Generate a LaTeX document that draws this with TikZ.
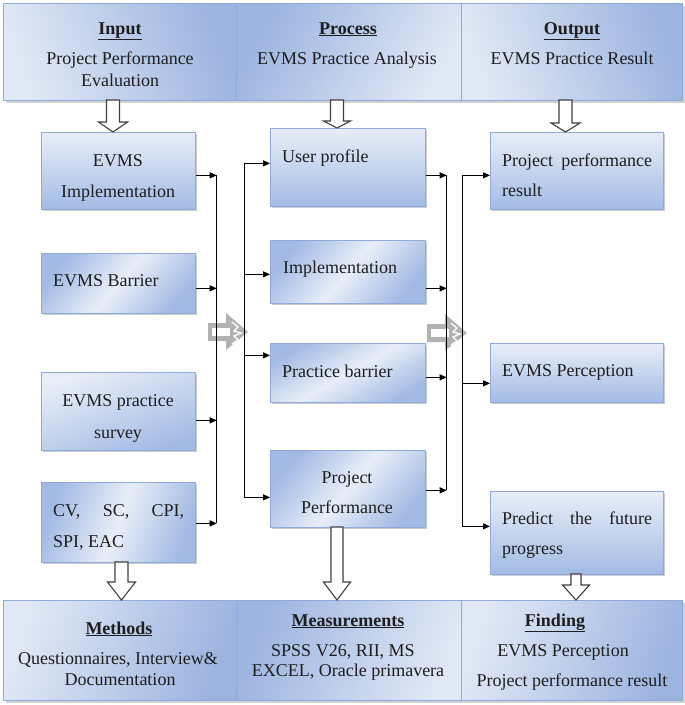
\documentclass[tikz,border=0pt]{standalone}
\usepackage{fontspec}
\setmainfont{Liberation Serif}
\usetikzlibrary{arrows.meta,shadows,calc}
\definecolor{boxedge}{HTML}{8FAADC}
\definecolor{lightb}{HTML}{E8EEF8}
\definecolor{darkb}{HTML}{A3BBE4}
\definecolor{bandd}{HTML}{9CB4E0}
\definecolor{bandl}{HTML}{E0E8F5}
\definecolor{txt}{HTML}{1E1E1E}
\newcommand{\barrowdn}[6]{%
  \draw[blockar] (#1-#2,#4) -- (#1-#2,#5) -- (#1-#3,#5) -- (#1,#6) -- (#1+#3,#5) -- (#1+#2,#5) -- (#1+#2,#4) -- cycle;}
\newcommand{\greyarrow}[2]{%
  \fill[gray!60] (#1,#2-9) -- (#1+18,#2-9) -- (#1+18,#2-19) -- (#1+40,#2) -- (#1+18,#2+18) -- (#1+18,#2+9) -- (#1,#2+9) -- cycle;
  \fill[white] (#1+4,#2-4) rectangle (#1+22,#2+4);
  \draw[white, line width=1.3pt] (#1+24,#2-10) -- (#1+30,#2-5) -- (#1+26,#2-1) -- (#1+33,#2+1) -- (#1+26,#2+4) -- (#1+30,#2+8) -- (#1+24,#2+12);}
\begin{document}
\begin{tikzpicture}[x=1pt,y=-1pt,
  every node/.style={font=\fontsize{18}{22}\selectfont, inner sep=0pt, text=txt},
  shad/.style={drop shadow={shadow xshift=2pt,shadow yshift=-2pt,fill=black!50,opacity=.4}},
  boxv/.style={draw=boxedge, line width=0.7pt, top color=lightb, bottom color=darkb, shad, anchor=north west},
  boxd/.style={draw=boxedge, line width=0.7pt, left color=darkb, right color=darkb, middle color=lightb, shading angle=50, shad, anchor=north west},
  bandcell/.style={draw=boxedge, line width=0.7pt, left color=bandl, right color=bandd, shading angle=110, anchor=north west, minimum height=97pt},
  bandcellb/.style={draw=boxedge, line width=0.7pt, left color=bandl, right color=bandd, shading angle=70, anchor=north west, minimum height=100pt},
  col1/.style={minimum width=154pt},
  col2/.style={minimum width=155pt},
  col3/.style={minimum width=173pt},
  conn/.style={line width=1pt, -{Triangle[length=7pt,width=6pt]}},
  bus/.style={line width=1pt},
  blockar/.style={draw=black!75, line width=1.1pt, fill=white, line join=miter},
  tb/.style={anchor=base},
  tl/.style={anchor=base west}]
\useasboundingbox (0,0) rectangle (685,705);

% bands
\fill[black!35, opacity=.5] (6,6) rectangle (685,103);
\node[bandcell, minimum width=233pt] (inp) at (3,3) {};
\node[bandcell, minimum width=225pt, shading angle=240] (proc) at (236,3) {};
\node[bandcell, minimum width=221pt] (outp) at (461,3) {};
\fill[black!35, opacity=.5] (6,603) rectangle (685,703);
\node[bandcellb, minimum width=233pt] (meth) at (3,600) {};
\node[bandcellb, minimum width=225pt, shading angle=250] (meas) at (236,600) {};
\node[bandcellb, minimum width=221pt] (find) at (461,600) {};

% boxes
\node[boxv, col1, minimum height=77pt] (impl) at (41,132) {};
\node[boxd, col1, minimum height=60pt] (barr) at (41,253) {};
\node[boxv, col1, minimum height=78pt, shading angle=20] (surv) at (41,372) {};
\node[boxd, col1, minimum height=80pt, shading angle=70] (cv) at (41,482) {};
\node[boxv, col2, minimum height=78pt] (user) at (270,128) {};
\node[boxd, col2, minimum height=63pt] (implm) at (270,240) {};
\node[boxd, col2, minimum height=59pt, shading angle=30] (prac) at (270,343) {};
\node[boxd, col2, minimum height=77pt] (perf) at (270,450) {};
\node[boxv, col3, minimum height=77pt] (ppr) at (490,132) {};
\node[boxv, col3, minimum height=59pt] (perc) at (490,343) {};
\node[boxv, col3, minimum height=83pt] (pred) at (490,491) {};

% grey transfer arrows
\greyarrow{208}{332}
\greyarrow{427}{333}

% block arrows
\barrowdn{113}{6.5}{14.5}{100}{122}{132}
\barrowdn{337}{6.5}{13.5}{100}{121}{128}
\barrowdn{565.5}{6.5}{14.5}{100}{123}{132}
\barrowdn{121.5}{6.5}{14}{562}{582}{600}
\barrowdn{337}{6}{13.5}{527}{582}{600}
\barrowdn{576}{5}{13.5}{574}{585}{600}

% buses
\coordinate (b1t) at (216,175); \coordinate (b1b) at (216,523);
\coordinate (b2t) at (244,163); \coordinate (b2b) at (244,497);
\coordinate (b3t) at (446,175); \coordinate (b3b) at (446,490);
\coordinate (b4t) at (462,175); \coordinate (b4b) at (462,526);
\draw[bus] (b1t) -- (b1b);
\draw[bus] (b2t) -- (b2b);
\draw[bus] (b3t) -- (b3b);
\draw[bus] (b4t) -- (b4b);

% connectors into left bus
\draw[conn] ([yshift=-4.5pt]impl.east) -- ++(21,0);
\draw[conn] ([yshift=-5pt]barr.east) -- ++(21,0);
\draw[conn] ([yshift=-9pt]surv.east) -- ++(21,0);
\draw[conn] ([yshift=-1pt]cv.east) -- ++(21,0);
% from second bus to middle boxes
\draw[conn] ([xshift=-26pt,yshift=4pt]user.west) -- ([yshift=4pt]user.west);
\draw[conn] ([xshift=-26pt,yshift=-2.5pt]implm.west) -- ([yshift=-2.5pt]implm.west);
\draw[conn] ([xshift=-26pt,yshift=17.5pt]prac.west) -- ([yshift=17.5pt]prac.west);
\draw[conn] ([xshift=-26pt,yshift=-8.5pt]perf.west) -- ([yshift=-8.5pt]perf.west);
% from middle boxes to third bus
\draw[conn] ([yshift=-8pt]user.east) -- ++(21,0);
\draw[conn] ([yshift=-16.5pt]implm.east) -- ++(21,0);
\draw[conn] ([yshift=-4.5pt]prac.east) -- ++(21,0);
\draw[conn] ([yshift=-1.5pt]perf.east) -- ++(21,0);
% from fourth bus to right boxes
\draw[conn] ([xshift=-28pt,yshift=-4.5pt]ppr.west) -- ([yshift=-4.5pt]ppr.west);
\draw[conn] ([xshift=-28pt,yshift=-10.5pt]perc.west) -- ([yshift=-10.5pt]perc.west);
\draw[conn] ([xshift=-28pt,yshift=6.5pt]pred.west) -- ([yshift=6.5pt]pred.west);

% band texts
\node[tb] (tin1) at (120,34) {\textbf{\underline{Input}}};
\node[tb] (tin2) at (120,64) {Project Performance};
\node[tb] (tin3) at (120,86) {Evaluation};
\node[tb] (tpr1) at (348,34) {\textbf{\underline{Process}}};
\node[tb] (tpr2) at (347,64) {EVMS Practice Analysis};
\node[tb] (tou1) at (572,34) {\textbf{\underline{Output}}};
\node[tb] (tou2) at (572,64) {EVMS Practice Result};
\node[tb] (tme1) at (119,634) {\textbf{\underline{Methods}}};
\node[tb] (tme2) at (118,664) {Questionnaires, Interview\&};
\node[tb] (tme3) at (120,685) {Documentation};
\node[tb] (tms1) at (348,626) {\textbf{\underline{Measurements}}};
\node[tb] (tms2) at (343,656) {SPSS V26, RII, MS};
\node[tb] (tms3) at (348,676) {EXCEL, Oracle primavera};
\node[tb] (tfi1) at (555,626) {\textbf{\underline{Finding}}};
\node[tb] (tfi2) at (563,656) {EVMS Perception};
\node[tb] (tfi3) at (572,686) {Project performance result};

% box texts
\node[tb] (x1) at (118,166) {EVMS};
\node[tb] (x2) at (118,197) {Implementation};
\node[tl] (x3) at (53,286) {EVMS Barrier};
\node[tb] (x4) at (118,406) {EVMS practice};
\node[tb] (x5) at (118,438) {survey};
\node[tl] (x6) at (53,516) {\makebox[131pt][s]{CV,\hfill SC,\hfill CPI,}};
\node[tl] (x7) at (53,547) {SPI, EAC};
\node[tl] (x8) at (282,162) {User profile};
\node[tl] (x9) at (283,273) {Implementation};
\node[tl] (x10) at (282,377) {Practice barrier};
\node[tb] (x11) at (347,483) {Project};
\node[tb] (x12) at (347,513) {Performance};
\node[tl] (x13) at (502,166) {\makebox[150pt][s]{Project\hfill performance}};
\node[tl] (x14) at (502,196) {result};
\node[tl] (x15) at (502,376) {EVMS Perception};
\node[tl] (x16) at (502,524) {\makebox[150pt][s]{Predict\hfill the\hfill future}};
\node[tl] (x17) at (502,554) {progress};
\end{tikzpicture}
\end{document}
